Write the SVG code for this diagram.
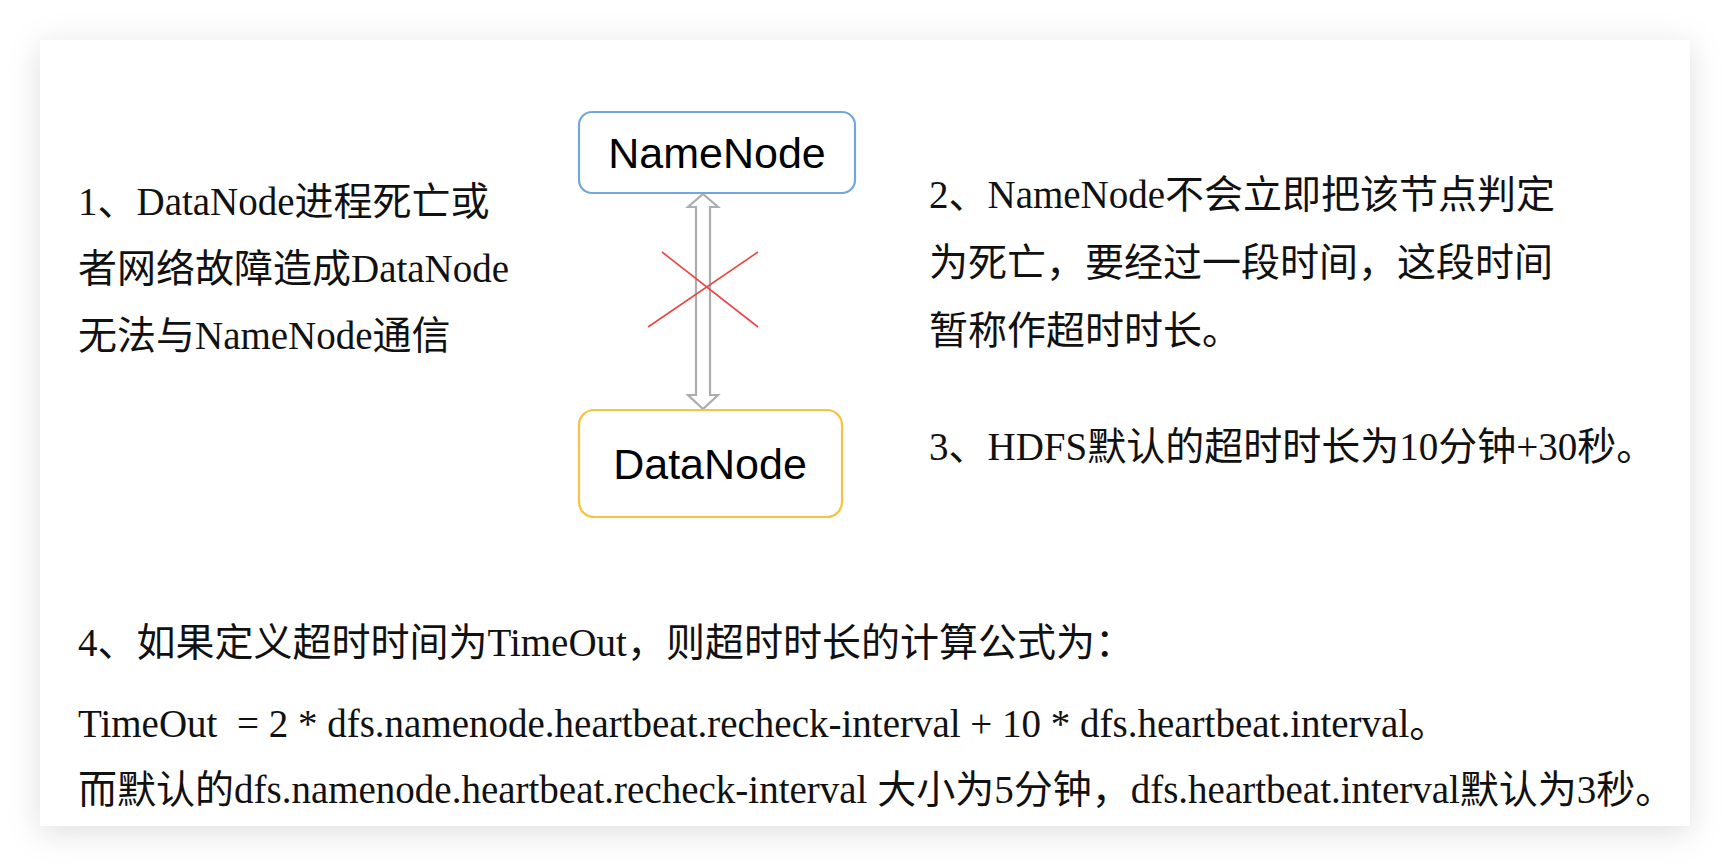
<svg xmlns="http://www.w3.org/2000/svg" width="1730" height="866" viewBox="0 0 1730 866">
  <defs>
    <filter id="shadow" x="-10%" y="-10%" width="120%" height="125%">
      <feDropShadow dx="0" dy="6" stdDeviation="16" flood-color="#000" flood-opacity="0.13"/>
    </filter>
    <style>
      .txt { font-family: "Liberation Serif", "Noto Sans CJK SC", serif; font-size: 39px; fill: #111; }
      .label { font-family: "Liberation Sans", Arial, sans-serif; font-size: 43px; fill: #000; text-anchor: middle; }
      .box { fill: #fff; stroke-width: 2.2; }
    </style>
  </defs>
  <rect x="0" y="0" width="1730" height="866" fill="#fff"/>
  <rect id="card" x="40" y="40" width="1650" height="786" fill="#fff" filter="url(#shadow)"/>

  <g id="connectors">
    <path d="M703,194 L718,207 L710,207 L710,395 L718,395 L703,409 L688,395 L696,395 L696,207 L688,207 Z" fill="#fff" stroke="#adadad" stroke-width="2.2" stroke-linejoin="miter"/>
    <g stroke="#ee4444" stroke-width="1.6">
      <line x1="648" y1="327" x2="758" y2="252"/>
      <line x1="662" y1="252" x2="758" y2="327"/>
    </g>
  </g>

  <g id="namenode">
    <rect class="box" x="579" y="112" width="276" height="81" rx="13" stroke="#72a7dc"/>
    <text class="label" x="717" y="168">NameNode</text>
  </g>
  <g id="datanode">
    <rect class="box" x="579" y="410" width="263" height="107" rx="15" stroke="#f5c443"/>
    <text class="label" x="710" y="479">DataNode</text>
  </g>

  <g id="text-1">
    <text class="txt" x="78" y="215">1、DataNode进程死亡或</text>
    <text class="txt" x="78" y="282">者网络故障造成DataNode</text>
    <text class="txt" x="78" y="349">无法与NameNode通信</text>
  </g>
  <g id="text-2">
    <text class="txt" x="929" y="208">2、NameNode不会立即把该节点判定</text>
    <text class="txt" x="929" y="276">为死亡，要经过一段时间，这段时间</text>
    <text class="txt" x="929" y="344">暂称作超时时长。</text>
  </g>
  <g id="text-3">
    <text class="txt" x="929" y="460">3、HDFS默认的超时时长为10分钟+30秒。</text>
  </g>
  <g id="text-4">
    <text class="txt" x="78" y="656">4、如果定义超时时间为TimeOut，则超时时长的计算公式为：</text>
    <text class="txt" x="78" y="737" xml:space="preserve">TimeOut  = 2 * dfs.namenode.heartbeat.recheck-interval + 10 * dfs.heartbeat.interval。</text>
    <text class="txt" x="78" y="803">而默认的dfs.namenode.heartbeat.recheck-interval 大小为5分钟，dfs.heartbeat.interval默认为3秒。</text>
  </g>
</svg>
